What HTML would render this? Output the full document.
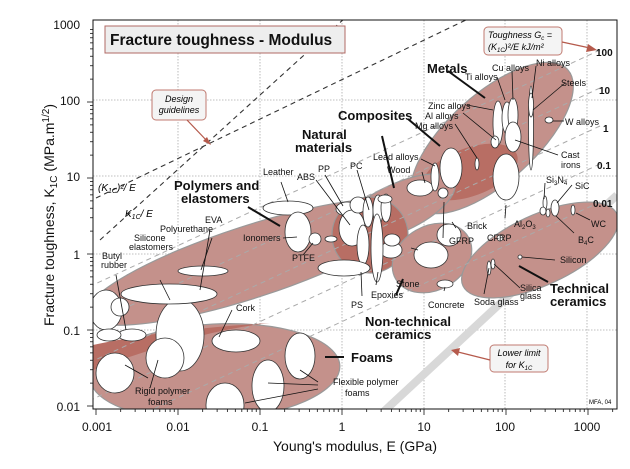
<!DOCTYPE html>
<html><head><meta charset="utf-8"><style>
html,body{margin:0;padding:0;background:#fff}
svg{display:block;font-family:"Liberation Sans",Arial,sans-serif}
.e{fill:#fff;stroke:#333;stroke-width:0.8}
.l{stroke:#111;stroke-width:0.8;fill:none}
.L{stroke:#111;stroke-width:2;fill:none}
.s{font-size:9px;fill:#111}
.b{font-size:13px;font-weight:bold;fill:#111}
.t{font-size:12px;fill:#111}
</style></head><body>
<svg width="630" height="469" viewBox="0 0 630 469" xmlns="http://www.w3.org/2000/svg">
<defs><clipPath id="c"><rect x="93" y="20" width="524" height="389"/></clipPath></defs>
<g stroke="#aaa" stroke-width="0.8" stroke-dasharray="1.5,1.5">
<line x1="178" y1="20" x2="178" y2="409"/><line x1="260" y1="20" x2="260" y2="409"/><line x1="342" y1="20" x2="342" y2="409"/><line x1="424" y1="20" x2="424" y2="409"/><line x1="505" y1="20" x2="505" y2="409"/><line x1="587" y1="20" x2="587" y2="409"/>
<line x1="93" y1="100" x2="617" y2="100"/><line x1="93" y1="176" x2="617" y2="176"/><line x1="93" y1="254" x2="617" y2="254"/><line x1="93" y1="330" x2="617" y2="330"/>
</g>
<g clip-path="url(#c)">
<line x1="380" y1="415" x2="617" y2="195" stroke="#d8d8d8" stroke-width="8"/>
<g stroke="#999" stroke-width="1.2">
<ellipse cx="250" cy="262" rx="172" ry="36" transform="rotate(-18 250 262)" fill="#c4918b"/>
<ellipse cx="215" cy="372" rx="125" ry="48" transform="rotate(-3 215 372)" fill="#c4918b"/>
<ellipse cx="492" cy="138" rx="102" ry="44" transform="rotate(-42 492 138)" fill="#c4918b"/>
<ellipse cx="470" cy="172" rx="50" ry="24" transform="rotate(-20 470 172)" fill="#b86e64" stroke="none"/>
<ellipse cx="398" cy="208" rx="62" ry="24" transform="rotate(-25 398 208)" fill="#c4918b"/>
<ellipse cx="370" cy="235" rx="38" ry="38" fill="#b86e64"/>
<ellipse cx="432" cy="258" rx="42" ry="32" transform="rotate(-30 432 258)" fill="#c4918b"/>
<ellipse cx="540" cy="250" rx="85" ry="35" transform="rotate(-25 540 250)" fill="#c4918b"/>
<path d="M93,345 Q160,330 270,323 Q200,330 93,370 Z" fill="#b86e64" stroke="none"/>
</g>
<g stroke="#aaa" stroke-width="1" stroke-dasharray="5,4">
<line x1="600" y1="50" x2="80" y2="291"/><line x1="600" y1="88" x2="80" y2="329"/><line x1="600" y1="126" x2="80" y2="367"/><line x1="600" y1="164" x2="80" y2="405"/><line x1="600" y1="202" x2="80" y2="443"/>
</g>
<g stroke="#333" stroke-width="1.1" stroke-dasharray="5,4">
<line x1="96" y1="198" x2="470" y2="18"/>
<line x1="100" y1="240" x2="345" y2="18"/>
</g>
<g class="e">
<ellipse cx="106" cy="310" rx="16" ry="20"/><circle cx="120" cy="307" r="9"/>
<ellipse cx="180" cy="335" rx="24" ry="36"/>
<ellipse cx="169" cy="294" rx="48" ry="10"/>
<ellipse cx="203" cy="271" rx="25" ry="5"/>
<ellipse cx="132" cy="335" rx="14" ry="6"/><ellipse cx="109" cy="335" rx="12" ry="6"/>
<ellipse cx="236" cy="341" rx="24" ry="11"/>
<ellipse cx="165" cy="358" rx="19" ry="20"/>
<ellipse cx="115" cy="373" rx="19" ry="20"/>
<ellipse cx="225" cy="405" rx="19" ry="22"/>
<ellipse cx="268" cy="386" rx="16" ry="26"/>
<ellipse cx="300" cy="356" rx="15" ry="23"/>
<ellipse cx="288" cy="208" rx="25" ry="7"/>
<ellipse cx="298" cy="232" rx="13" ry="20"/>
<circle cx="315" cy="239" r="6"/><ellipse cx="331" cy="239" rx="6" ry="3"/>
<ellipse cx="347" cy="209" rx="11" ry="7"/>
<ellipse cx="352" cy="228" rx="13" ry="18"/>
<circle cx="358" cy="205" r="8"/>
<ellipse cx="368" cy="212" rx="5" ry="15"/><ellipse cx="378" cy="210" rx="5" ry="15"/><ellipse cx="386" cy="208" rx="5" ry="14"/>
<ellipse cx="385" cy="199" rx="7" ry="4"/>
<ellipse cx="391" cy="250" rx="11" ry="8"/><ellipse cx="392" cy="240" rx="8" ry="6"/>
<ellipse cx="363" cy="245" rx="6" ry="20"/>
<ellipse cx="344" cy="268" rx="26" ry="8"/>
<ellipse cx="377" cy="248" rx="6" ry="34"/>
<ellipse cx="420" cy="188" rx="13" ry="8"/>
<ellipse cx="435" cy="177" rx="4" ry="14"/><circle cx="443" cy="193" r="5"/>
<ellipse cx="451" cy="168" rx="11" ry="20"/>
<ellipse cx="477" cy="164" rx="2" ry="6"/>
<ellipse cx="506" cy="177" rx="13" ry="23"/>
<ellipse cx="498" cy="123" rx="5" ry="22"/><ellipse cx="507" cy="118" rx="5" ry="16"/><ellipse cx="513" cy="115" rx="5" ry="17"/>
<ellipse cx="513" cy="137" rx="8" ry="15"/><ellipse cx="495" cy="142" rx="4" ry="6"/>
<ellipse cx="531" cy="128" rx="2.5" ry="42"/><ellipse cx="531" cy="105" rx="2.5" ry="12"/>
<ellipse cx="549" cy="120" rx="4" ry="3"/>
<ellipse cx="545" cy="203" rx="2" ry="7"/><ellipse cx="543" cy="211" rx="3" ry="4"/><ellipse cx="548" cy="213" rx="2" ry="4"/>
<ellipse cx="555" cy="208" rx="4" ry="8"/><ellipse cx="573" cy="210" rx="2" ry="5"/>
<circle cx="500" cy="238" r="3"/><circle cx="520" cy="257" r="2"/>
<ellipse cx="489" cy="268" rx="2" ry="7"/><ellipse cx="493" cy="264" rx="2" ry="5"/>
<ellipse cx="431" cy="255" rx="17" ry="13"/><ellipse cx="449" cy="235" rx="12" ry="11"/>
<ellipse cx="445" cy="284" rx="8" ry="4"/>
</g>
<g class="l">
<line x1="116" y1="275" x2="126" y2="330"/><line x1="160" y1="280" x2="170" y2="300"/><line x1="210" y1="230" x2="200" y2="290"/><line x1="212" y1="238" x2="201" y2="270"/>
<line x1="232" y1="310" x2="219" y2="337"/><line x1="125" y1="365" x2="148" y2="378"/><line x1="150" y1="388" x2="158" y2="360"/>
<line x1="318" y1="382" x2="300" y2="370"/><line x1="318" y1="385" x2="268" y2="383"/><line x1="318" y1="389" x2="245" y2="403"/>
<line x1="281" y1="182" x2="288" y2="202"/><line x1="283" y1="238" x2="297" y2="237"/><line x1="303" y1="255" x2="313" y2="243"/>
<line x1="316" y1="180" x2="350" y2="225"/><line x1="325" y1="175" x2="343" y2="206"/><line x1="357" y1="170" x2="369" y2="210"/>
<line x1="362" y1="296" x2="361" y2="272"/><line x1="376" y1="285" x2="378" y2="272"/>
<line x1="422" y1="172" x2="425" y2="183"/><line x1="421" y1="159" x2="435" y2="166"/>
<line x1="443" y1="238" x2="444" y2="202"/><line x1="456" y1="228" x2="452" y2="222"/><line x1="505" y1="218" x2="506" y2="205"/>
<line x1="411" y1="248" x2="418" y2="250"/><line x1="444" y1="291" x2="445" y2="287"/>
<line x1="467" y1="105" x2="493" y2="110"/><line x1="463" y1="113" x2="496" y2="140"/><line x1="455" y1="124" x2="477" y2="158"/>
<line x1="497" y1="77" x2="505" y2="100"/><line x1="512" y1="71" x2="513" y2="100"/><line x1="536" y1="66" x2="532" y2="98"/>
<line x1="565" y1="83" x2="533" y2="110"/><line x1="553" y1="121" x2="564" y2="121"/><line x1="515" y1="140" x2="558" y2="155"/>
<line x1="545" y1="183" x2="544" y2="199"/><line x1="572" y1="185" x2="557" y2="203"/><line x1="576" y1="213" x2="590" y2="220"/><line x1="556" y1="216" x2="574" y2="233"/>
<line x1="522" y1="257" x2="555" y2="260"/><line x1="489" y1="268" x2="484" y2="294"/><line x1="494" y1="264" x2="520" y2="288"/>
</g>
<g class="L">
<line x1="248" y1="207" x2="280" y2="226"/><line x1="382" y1="136" x2="394" y2="188"/>
<line x1="408" y1="119" x2="440" y2="146"/><line x1="448" y1="71" x2="485" y2="98"/>
<line x1="403" y1="279" x2="396" y2="295"/><line x1="519" y1="266" x2="548" y2="282"/><line x1="325" y1="357" x2="344" y2="357"/>
</g>
</g>
<rect x="93" y="20" width="524" height="389" fill="none" stroke="#111" stroke-width="1"/>
<g id="ticks" stroke="#111" stroke-width="0.8"></g>
<rect x="105" y="26" width="240" height="27" fill="#eeeeee" stroke="#b06a64"/>
<text x="110" y="45" font-size="15.5" font-weight="bold" fill="#111">Fracture toughness - Modulus</text>
<rect x="152" y="90" width="54" height="30" rx="4" fill="#f4f4f4" stroke="#c07a70"/>
<text x="179" y="102" font-size="9" font-style="italic" text-anchor="middle">Design</text>
<text x="179" y="113" font-size="9" font-style="italic" text-anchor="middle">guidelines</text>
<line x1="187" y1="120" x2="208" y2="142" stroke="#b55a4c" stroke-width="1.2"/><path d="M211,145 L203,141 L207,137 Z" fill="#b55a4c"/>
<rect x="484" y="27" width="78" height="28" rx="4" fill="#f4f4f4" stroke="#c07a70"/>
<text x="488" y="38" font-size="9" font-style="italic">Toughness G<tspan font-size="6" dy="2">c</tspan><tspan dy="-2"> =</tspan></text>
<text x="488" y="50" font-size="9" font-style="italic">(K<tspan font-size="6" dy="2">1C</tspan><tspan dy="-2">)²/E  kJ/m²</tspan></text>
<line x1="562" y1="42" x2="590" y2="48" stroke="#b55a4c" stroke-width="1.4"/><path d="M597,50 L586,52 L588,44 Z" fill="#b55a4c"/>
<rect x="490" y="345" width="58" height="27" rx="4" fill="#f4f4f4" stroke="#c07a70"/>
<text x="519" y="356" font-size="9" font-style="italic" text-anchor="middle">Lower limit</text>
<text x="519" y="368" font-size="9" font-style="italic" text-anchor="middle">for K<tspan font-size="6" dy="2">1C</tspan></text>
<line x1="490" y1="360" x2="458" y2="352" stroke="#b55a4c" stroke-width="1.2"/><path d="M451,350 L460,348 L458,356 Z" fill="#b55a4c"/>
<g font-size="10" font-weight="bold" fill="#111">
<text x="596" y="56">100</text><text x="599" y="94">10</text><text x="603" y="132">1</text><text x="597" y="169">0.1</text><text x="593" y="207">0.01</text>
</g>
<text x="98" y="191" font-size="10" font-style="italic">(K<tspan font-size="7" dy="2">1C</tspan><tspan dy="-2">)²/ E</tspan></text>
<text x="125" y="217" font-size="10" font-style="italic">K<tspan font-size="7" dy="2">1C</tspan><tspan dy="-2">/ E</tspan></text>
<text x="174" y="190" class="b">Polymers and</text><text x="181" y="203" class="b">elastomers</text>
<text x="302" y="139" class="b">Natural</text><text x="295" y="152" class="b">materials</text>
<text x="338" y="120" class="b">Composites</text>
<text x="427" y="73" class="b">Metals</text>
<text x="365" y="326" class="b">Non-technical</text><text x="375" y="339" class="b">ceramics</text>
<text x="550" y="293" class="b">Technical</text><text x="550" y="306" class="b">ceramics</text>
<text x="351" y="362" class="b">Foams</text>
<g class="s">
<text x="102" y="259">Butyl</text><text x="101" y="268">rubber</text>
<text x="134" y="241">Silicone</text><text x="129" y="250">elastomers</text>
<text x="160" y="232">Polyurethane</text><text x="205" y="223">EVA</text>
<text x="243" y="241">Ionomers</text><text x="292" y="261">PTFE</text>
<text x="236" y="311">Cork</text>
<text x="135" y="394">Rigid polymer</text><text x="148" y="405">foams</text>
<text x="333" y="385">Flexible polymer</text><text x="345" y="396">foams</text>
<text x="263" y="175">Leather</text><text x="297" y="180">ABS</text><text x="318" y="172">PP</text><text x="350" y="169">PC</text>
<text x="373" y="160">Lead alloys</text><text x="387" y="173">Wood</text>
<text x="351" y="308">PS</text><text x="371" y="298">Epoxies</text>
<text x="396" y="287">Stone</text><text x="428" y="308">Concrete</text><text x="467" y="229">Brick</text>
<text x="449" y="244">GFRP</text><text x="487" y="241">CFRP</text>
<text x="428" y="109">Zinc alloys</text><text x="425" y="119">Al alloys</text><text x="415" y="129">Mg alloys</text>
<text x="465" y="80">Ti alloys</text><text x="492" y="71">Cu alloys</text><text x="536" y="66">Ni alloys</text>
<text x="561" y="86">Steels</text><text x="565" y="125">W alloys</text><text x="561" y="158">Cast</text><text x="561" y="168">irons</text>
<text x="546" y="183">Si<tspan font-size="6" dy="2">3</tspan><tspan dy="-2">N</tspan><tspan font-size="6" dy="2">4</tspan></text>
<text x="575" y="189">SiC</text><text x="514" y="227">Al<tspan font-size="6" dy="2">2</tspan><tspan dy="-2">O</tspan><tspan font-size="6" dy="2">3</tspan></text>
<text x="591" y="227">WC</text><text x="578" y="243">B<tspan font-size="6" dy="2">4</tspan><tspan dy="-2">C</tspan></text>
<text x="560" y="263">Silicon</text><text x="474" y="305">Soda glass</text><text x="520" y="291">Silica</text><text x="520" y="299">glass</text>
</g>
<text x="589" y="404" font-size="6">MFA, 04</text>
<g class="t" text-anchor="end">
<text x="80" y="29">1000</text><text x="80" y="105">100</text><text x="80" y="181">10</text><text x="80" y="259">1</text><text x="80" y="335">0.1</text><text x="80" y="411">0.01</text>
</g>
<g class="t" text-anchor="middle">
<text x="97" y="431">0.001</text><text x="178" y="431">0.01</text><text x="260" y="431">0.1</text><text x="342" y="431">1</text><text x="424" y="431">10</text><text x="505" y="431">100</text><text x="587" y="431">1000</text>
</g>
<text x="355" y="451" font-size="14" text-anchor="middle" fill="#111">Young's modulus, E (GPa)</text>
<text transform="translate(54,215) rotate(-90)" font-size="14" text-anchor="middle" fill="#111">Fracture toughness, K<tspan font-size="10" dy="3">1C</tspan><tspan dy="-3"> (MPa.m</tspan><tspan font-size="10" dy="-5">1/2</tspan><tspan dy="5">)</tspan></text>
</svg>
<script>
var g=document.getElementById('ticks'),s='';
for(var d=0;d<7;d++){for(var k=1;k<10;k++){var x=96+82*(d+Math.log10(k));if(x>617)break;var L=k==1?6:3;s+='<line x1="'+x+'" y1="409" x2="'+x+'" y2="'+(409+L)+'"/>';}}
for(var d=0;d<5;d++){for(var k=1;k<10;k++){var y=406-76*(d+Math.log10(k));if(y<20)break;var L=k==1?6:3;s+='<line x1="'+(93-L)+'" y1="'+y+'" x2="93" y2="'+y+'"/>';}}
g.innerHTML=s;
</script>
</body></html>
